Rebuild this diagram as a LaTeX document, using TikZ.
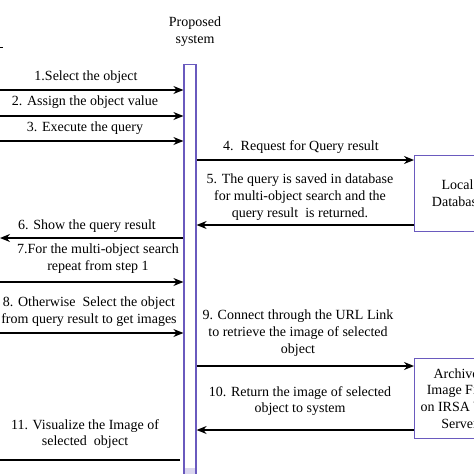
\documentclass[tikz,border=0pt]{standalone}
\usepackage{fontspec}
\setmainfont{Liberation Serif}
\usetikzlibrary{arrows.meta}
\definecolor{lifec}{RGB}{106,90,190}
\begin{document}
\begin{tikzpicture}[x=1pt,y=-1pt,
  msg/.style={line width=1.5pt,-{Stealth[length=10pt,width=8pt]}},
  plain/.style={line width=1.5pt},
  lbl/.style={font=\fontsize{14}{16.8}\selectfont,align=center,inner sep=0pt},
  actor/.style={draw=lifec,line width=1.2pt,fill=white,align=center,font=\fontsize{14}{16.8}\selectfont}]
\useasboundingbox (0,0) rectangle (474,474);
\clip (0,0) rectangle (474,474);
% lifeline
\node[draw=lifec,line width=1.2pt,minimum width=12pt,minimum height=420pt,anchor=north,inner sep=0pt] (life) at (190,64) {};
\fill[lifec!25] (185,468) rectangle (195,474);
\node[lbl] (title) at (195,32) {Proposed\\system};
\draw[line width=1pt] (0,47) -- (3,47);
% boxes
\node[actor,minimum width=86pt,minimum height=76pt,anchor=north west] (db) at (414,155) {Local\\Database};
\node[actor,minimum width=90pt,minimum height=80pt,anchor=north west,inner sep=1pt] (arch) at (414,358) {Archived\\Image Files\\on IRSA Web\\Server};
% coordinates
\coordinate (l1) at (-5,90);  \coordinate (r1) at (life.west |- l1);
\coordinate (l2) at (-5,116); \coordinate (r2) at (life.west |- l2);
\coordinate (l3) at (-5,141); \coordinate (r3) at (life.west |- l3);
\coordinate (s4) at (life.east |- 0,160); \coordinate (e4) at (db.west |- s4);
\coordinate (s5) at (db.west |- 0,225); \coordinate (e5) at (life.east |- s5);
\coordinate (s6) at (life.west |- 0,238); \coordinate (e6) at (0,238);
\coordinate (l7) at (-5,282); \coordinate (r7) at (life.west |- l7);
\coordinate (l8) at (-5,333); \coordinate (r8) at (life.west |- l8);
\coordinate (s9) at (life.east |- 0,366); \coordinate (e9) at (arch.west |- s9);
\coordinate (s10) at (arch.west |- 0,430); \coordinate (e10) at (life.east |- s10);
\coordinate (s11) at (180,460); \coordinate (e11) at (-5,460);
% messages
\draw[msg] (l1) -- (r1);
\draw[msg] (l2) -- (r2);
\draw[msg] (l3) -- (r3);
\draw[msg] (s4) -- (e4);
\draw[msg] (s5) -- (e5);
\draw[msg] (s6) -- (e6);
\draw[msg] (l7) -- (r7);
\draw[msg] (l8) -- (r8);
\draw[msg] (s9) -- (e9);
\draw[msg] (s10) -- (e10);
\draw[plain] (s11) -- (e11);
% labels
\node[lbl] (t1) at (86,77) {1.Select the object};
\node[lbl] (t2) at (85,102) {2. Assign the object value};
\node[lbl] (t3) at (85,128) {3. Execute the query};
\node[lbl] (t4) at (301,147) {4.\ \ Request for Query result};
\node[lbl] (t5) at (300,197) {5. The query is saved in database\\for multi-object search and the\\query result\ \ is returned.};
\node[lbl] (t6) at (87,226) {6. Show the query result};
\node[lbl] (t7) at (98,259) {7.For the multi-object search\\repeat from step 1};
\node[lbl] (t8) at (89,312) {8. Otherwise\ \ Select the object\\from query result to get images};
\node[lbl] (t9) at (298,333) {9. Connect through the URL Link\\to retrieve the image of selected\\object};
\node[lbl] (t10) at (300,401) {10. Return the image of selected\\object to system};
\node[lbl] (t11) at (85,434) {11. Visualize the Image of\\selected\ \ object};
\end{tikzpicture}
\end{document}
